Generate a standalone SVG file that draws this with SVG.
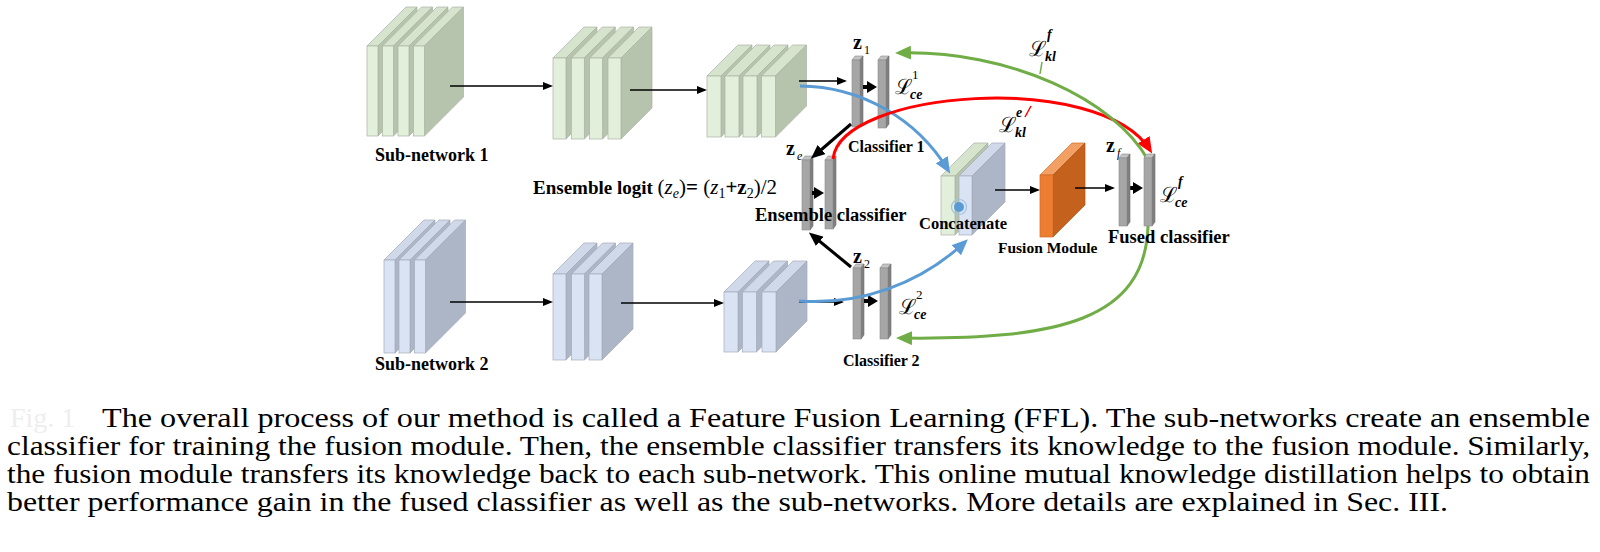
<svg xmlns="http://www.w3.org/2000/svg" xmlns:xlink="http://www.w3.org/1999/xlink" width="1600" height="552" viewBox="0 0 1600 552">
<style>
.gf{fill:#e2efda;stroke:#a9b3a3;stroke-width:0.7}
.gt{fill:#d6e4cd;stroke:#a9b3a3;stroke-width:0.7}
.gs{fill:#b6c3ad;stroke:#a9b3a3;stroke-width:0.7}
.bf{fill:#dae3f3;stroke:#a3abba;stroke-width:0.7}
.bt{fill:#cfd9ea;stroke:#a3abba;stroke-width:0.7}
.bs{fill:#adb6c6;stroke:#a3abba;stroke-width:0.7}
.of{fill:#ed7d31;stroke:#d06a25;stroke-width:0.7}
.ot{fill:#f2a064;stroke:#d06a25;stroke-width:0.7}
.os{fill:#c3611d;stroke:#b05518;stroke-width:0.7}
.kf{fill:#a6a6a6;stroke:#8c8c8c;stroke-width:0.6}
.kt{fill:#c4c4c4;stroke:#8c8c8c;stroke-width:0.6}
.ks{fill:#7f7f7f;stroke:#6f6f6f;stroke-width:0.6}
.lbl{font-family:"Liberation Serif",serif;font-weight:bold;fill:#000}
.zl{font-family:"Liberation Serif",serif;font-weight:bold;font-size:20px;fill:#000}
.zs{font-family:"Liberation Serif",serif;font-size:12px;fill:#000}
.Ls{font-family:"DejaVu Serif",serif;font-size:21px;fill:#000}
.Li{font-family:"Liberation Serif",serif;font-style:italic;font-weight:bold;font-size:14px;fill:#000}
.Ln{font-family:"Liberation Serif",serif;font-size:13px;fill:#000}
.thin{stroke:#000;stroke-width:1.5;fill:none}
.thick{stroke:#000;stroke-width:4;fill:none}
.diag{stroke:#000;stroke-width:3;fill:none}
.cap{font-family:"Liberation Serif",serif;font-size:28px;fill:#000}
</style>
<defs>
<marker id="ah" markerUnits="userSpaceOnUse" markerWidth="10" markerHeight="8" refX="8" refY="4" orient="auto"><path d="M0,0 L10,4 L0,8 z" fill="#000"/></marker>
<marker id="ahT" markerUnits="userSpaceOnUse" markerWidth="10" markerHeight="12" refX="3" refY="6" orient="auto"><path d="M0,0 L10,6 L0,12 z" fill="#000"/></marker>
<marker id="ahD" markerUnits="userSpaceOnUse" markerWidth="14" markerHeight="12" refX="10" refY="6" orient="auto"><path d="M0,0 L14,6 L0,12 z" fill="#000"/></marker>
<marker id="ahG" markerUnits="userSpaceOnUse" markerWidth="16" markerHeight="14" refX="12" refY="7" orient="auto"><path d="M0,0 L16,7 L0,14 z" fill="#70ad47"/></marker>
<marker id="ahR" markerUnits="userSpaceOnUse" markerWidth="16" markerHeight="14" refX="12" refY="7" orient="auto"><path d="M0,0 L16,7 L0,14 z" fill="#ff0000"/></marker>
<marker id="ahB" markerUnits="userSpaceOnUse" markerWidth="16" markerHeight="14" refX="12" refY="7" orient="auto"><path d="M0,0 L16,7 L0,14 z" fill="#5b9bd5"/></marker>
<g id="sA1"><polygon class="gt" points="0,0 39,-39 50,-39 11,0"/><polygon class="gs" points="11,0 50,-39 50,51 11,90"/><rect class="gf" x="0" y="0" width="11" height="90"/></g>
<g id="sA2"><polygon class="gt" points="0,0 31,-31 44,-31 13,0"/><polygon class="gs" points="13,0 44,-31 44,50 13,81"/><rect class="gf" x="0" y="0" width="13" height="81"/></g>
<g id="sA3"><polygon class="gt" points="0,0 31,-31 45,-31 14,0"/><polygon class="gs" points="14,0 45,-31 45,30 14,61"/><rect class="gf" x="0" y="0" width="14" height="61"/></g>
<g id="sB1"><polygon class="bt" points="0,0 40,-40 51,-40 11,0"/><polygon class="bs" points="11,0 51,-40 51,53 11,93"/><rect class="bf" x="0" y="0" width="11" height="93"/></g>
<g id="sB2"><polygon class="bt" points="0,0 31,-31 44,-31 13,0"/><polygon class="bs" points="13,0 44,-31 44,55 13,86"/><rect class="bf" x="0" y="0" width="13" height="86"/></g>
<g id="sB3"><polygon class="bt" points="0,0 31,-31 45,-31 14,0"/><polygon class="bs" points="14,0 45,-31 45,29 14,60"/><rect class="bf" x="0" y="0" width="14" height="60"/></g>
</defs>
<rect width="1600" height="552" fill="#fff"/>

<g id="subnet1-stage1"><use xlink:href="#sA1" x="367" y="46"/><use xlink:href="#sA1" x="382.5" y="46"/><use xlink:href="#sA1" x="398" y="46"/><use xlink:href="#sA1" x="413.5" y="46"/>
<text class="lbl" x="375" y="161" font-size="18">Sub-network 1</text></g>
<g id="subnet1-stage2"><use xlink:href="#sA2" x="553" y="58"/><use xlink:href="#sA2" x="571.3" y="58"/><use xlink:href="#sA2" x="589.6" y="58"/><use xlink:href="#sA2" x="608" y="58"/></g>
<g id="subnet1-stage3"><use xlink:href="#sA3" x="707" y="76"/><use xlink:href="#sA3" x="725" y="76"/><use xlink:href="#sA3" x="743" y="76"/><use xlink:href="#sA3" x="761.5" y="76"/></g>

<g id="subnet2-stage1"><use xlink:href="#sB1" x="384" y="260"/><use xlink:href="#sB1" x="399" y="260"/><use xlink:href="#sB1" x="414.5" y="260"/>
<text class="lbl" x="375" y="370" font-size="18">Sub-network 2</text></g>
<g id="subnet2-stage2"><use xlink:href="#sB2" x="553" y="274"/><use xlink:href="#sB2" x="571.5" y="274"/><use xlink:href="#sB2" x="589" y="274"/></g>
<g id="subnet2-stage3"><use xlink:href="#sB3" x="724" y="292"/><use xlink:href="#sB3" x="742.5" y="292"/><use xlink:href="#sB3" x="762" y="292"/></g>

<g id="classifier1">
<polygon class="kt" points="852,60 855,56 863,56 860,60"/><polygon class="ks" points="860,60 863,56 863,123 860,127"/><rect class="kf" x="852" y="60" width="8" height="67"/>
<polygon class="kt" points="878,60 881,56 889,56 886,60"/><polygon class="ks" points="886,60 889,56 889,124 886,128"/><rect class="kf" x="878" y="60" width="8" height="68"/>
<text class="zl" x="853" y="49">z</text><text class="zs" x="864" y="54">1</text>
<text class="Ls" x="895" y="94">ℒ</text><text class="Ln" x="912" y="79">1</text><text class="Li" x="910" y="99">ce</text>
<text class="lbl" x="848" y="152" font-size="16">Classifier 1</text></g>

<g id="ensemble-classifier">
<polygon class="kt" points="802,160 805,156 813,156 810,160"/><polygon class="ks" points="810,160 813,156 813,226 810,230"/><rect class="kf" x="802" y="160" width="8" height="70"/>
<polygon class="kt" points="825,160 828,156 836,156 833,160"/><polygon class="ks" points="833,160 836,156 836,225 833,229"/><rect class="kf" x="825" y="160" width="8" height="69"/>
<text class="zl" x="786" y="155">z</text><text class="zs" x="797" y="160" style="font-style:italic">e</text>
<text class="lbl" x="755" y="221" font-size="18.5">Ensemble classifier</text></g>

<g id="ensemble-logit">
<text x="533" y="194" font-family="Liberation Serif, serif" font-size="21"><tspan font-weight="bold" font-size="19">Ensemble logit </tspan>(<tspan font-style="italic">z</tspan><tspan font-style="italic" font-size="14" dy="4">e</tspan><tspan dy="-4">)</tspan><tspan font-weight="bold">=</tspan> (<tspan font-style="italic">z</tspan><tspan font-size="14" dy="4">1</tspan><tspan font-weight="bold" dy="-4">+z</tspan><tspan font-size="14" dy="4">2</tspan><tspan dy="-4">)/2</tspan></text></g>

<g id="classifier2">
<polygon class="kt" points="853,268 856,264 864,264 861,268"/><polygon class="ks" points="861,268 864,264 864,335 861,339"/><rect class="kf" x="853" y="268" width="8" height="71"/>
<polygon class="kt" points="880,268 883,264 891,264 888,268"/><polygon class="ks" points="888,268 891,264 891,335 888,339"/><rect class="kf" x="880" y="268" width="8" height="71"/>
<text class="zl" x="853" y="263">z</text><text class="zs" x="864" y="268">2</text>
<text class="Ls" x="899" y="314">ℒ</text><text class="Ln" x="916" y="299">2</text><text class="Li" x="914" y="319">ce</text>
<text class="lbl" x="843" y="366" font-size="16">Classifier 2</text></g>

<g id="concatenate">
<polygon class="gt" points="941,176 974,143 988,143 955,176"/><polygon class="gs" points="955,176 988,143 988,202 955,235"/><rect class="gf" x="941" y="176" width="14" height="59"/>
<polygon class="bt" points="959,176 992,143 1005,143 972,176"/><polygon class="bs" points="972,176 1005,143 1005,202 972,235"/><rect class="bf" x="959" y="176" width="13" height="59"/>
<circle cx="959" cy="207" r="7.5" fill="none" stroke="#9dc3e6" stroke-width="1.2"/><circle cx="959" cy="207" r="5" fill="#5b9bd5"/>
<text class="lbl" x="919" y="229" font-size="16.5">Concatenate</text></g>

<g id="fusion-module">
<polygon class="ot" points="1040,175 1072,143 1085,143 1053,175"/><polygon class="os" points="1053,175 1085,143 1085,205 1053,237"/><rect class="of" x="1040" y="175" width="13" height="62"/>
<text class="lbl" x="998" y="253" font-size="15.5">Fusion Module</text></g>

<g id="loss-labels">
<text class="Ls" x="1029" y="56">ℒ</text><text class="Li" x="1047" y="39">f</text><text class="Li" x="1045" y="61">kl</text>
<text class="Ls" x="999" y="132">ℒ</text><text class="Li" x="1016" y="117">e</text><text class="Li" x="1015" y="137">kl</text>
</g>

<g id="connectors">
<line class="thin" x1="450" y1="86" x2="551" y2="86" marker-end="url(#ah)"/>
<line class="thin" x1="630" y1="90" x2="705" y2="90" marker-end="url(#ah)"/>
<line class="thin" x1="799" y1="81" x2="845" y2="81" marker-end="url(#ah)"/>
<line class="thin" x1="450" y1="302" x2="551" y2="302" marker-end="url(#ah)"/>
<line class="thin" x1="621" y1="303" x2="722" y2="303" marker-end="url(#ah)"/>
<line class="thin" x1="799" y1="302" x2="842" y2="302" marker-end="url(#ah)"/>
<line class="thin" x1="995" y1="190" x2="1038" y2="190" marker-end="url(#ah)"/>
<line class="thin" x1="1075" y1="188" x2="1113" y2="188" marker-end="url(#ah)"/>
<line class="thick" x1="863" y1="87" x2="870" y2="87" marker-end="url(#ahT)"/>
<line class="thick" x1="812" y1="193" x2="817" y2="193" marker-end="url(#ahT)"/>
<line class="thick" x1="864" y1="301" x2="871" y2="301" marker-end="url(#ahT)"/>
<line class="thick" x1="1130" y1="188" x2="1136" y2="188" marker-end="url(#ahT)"/>
<line class="diag" x1="851" y1="124" x2="814" y2="156" marker-end="url(#ahD)"/>
<line class="diag" x1="851" y1="267" x2="812" y2="235" marker-end="url(#ahD)"/>
<path d="M800,86 A175,175 0 0 1 948,170" stroke="#5b9bd5" stroke-width="3" fill="none" marker-end="url(#ahB)"/>
<path d="M799,301 A220,220 0 0 0 965,242" stroke="#5b9bd5" stroke-width="3" fill="none" marker-end="url(#ahB)"/>
<path d="M833,159 C840,90 1100,70 1150,150" stroke="#ff0000" stroke-width="3" fill="none" marker-end="url(#ahR)"/>
<path d="M1148,160 C1115,100 1010,50 899,53" stroke="#70ad47" stroke-width="3" fill="none" marker-end="url(#ahG)"/>
<path d="M1148,226 C1145,320 1060,340 900,338" stroke="#70ad47" stroke-width="3" fill="none" marker-end="url(#ahG)"/>
<line x1="1042" y1="62" x2="1040" y2="74" stroke="#70ad47" stroke-width="1.5"/>
<line x1="1025" y1="117" x2="1031" y2="106" stroke="#ff0000" stroke-width="1.5"/>
</g>

<g id="fused-classifier">
<polygon class="kt" points="1119,158 1122,154 1130,154 1127,158"/><polygon class="ks" points="1127,158 1130,154 1130,222 1127,226"/><rect class="kf" x="1119" y="158" width="8" height="68"/>
<polygon class="kt" points="1144,158 1147,154 1155,154 1152,158"/><polygon class="ks" points="1152,158 1155,154 1155,222 1152,226"/><rect class="kf" x="1144" y="158" width="8" height="68"/>
<text class="zl" x="1106" y="152">z</text><text class="zs" x="1117" y="157" style="font-style:italic">f</text>
<text class="Ls" x="1160" y="202">ℒ</text><text class="Li" x="1178" y="186">f</text><text class="Li" x="1175" y="207">ce</text>
<text class="lbl" x="1108" y="243" font-size="18.5">Fused classifier</text></g>

<g id="caption">
<text class="cap" x="10" y="427" style="fill:#eeeeee">Fig. 1</text>
<text class="cap" x="102" y="427" textLength="1488" lengthAdjust="spacingAndGlyphs">The overall process of our method is called a Feature Fusion Learning (FFL). The sub-networks create an ensemble</text>
<text class="cap" x="7" y="455" textLength="1583" lengthAdjust="spacingAndGlyphs">classifier for training the fusion module. Then, the ensemble classifier transfers its knowledge to the fusion module. Similarly,</text>
<text class="cap" x="7" y="483" textLength="1583" lengthAdjust="spacingAndGlyphs">the fusion module transfers its knowledge back to each sub-network. This online mutual knowledge distillation helps to obtain</text>
<text class="cap" x="7" y="511" textLength="1441" lengthAdjust="spacingAndGlyphs">better performance gain in the fused classifier as well as the sub-networks. More details are explained in Sec. III.</text>
</g>
</svg>
